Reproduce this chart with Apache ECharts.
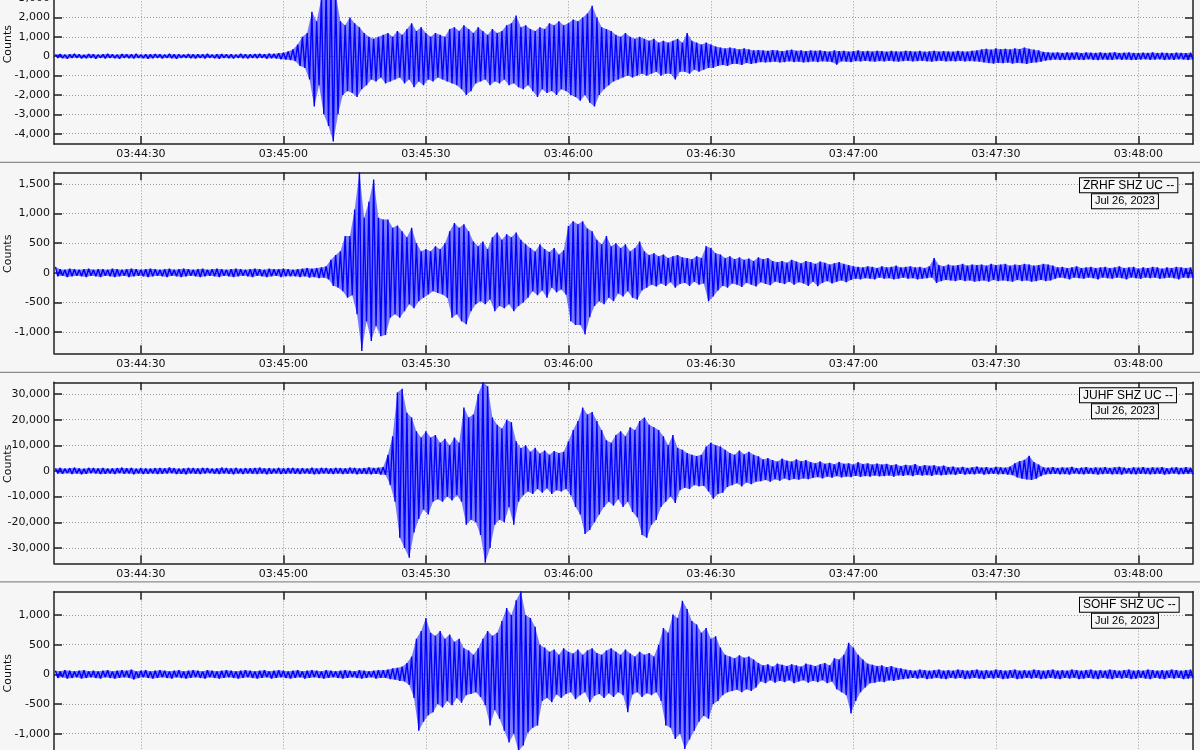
<!DOCTYPE html>
<html><head><meta charset="utf-8">
<script src="https://cdn.jsdelivr.net/npm/echarts@6/dist/echarts.min.js"></script>
<style>html,body{margin:0;padding:0;background:#f6f6f6;}#chart{width:1200px;height:750px;}</style>
</head><body><div id="chart"></div>
<script>
// Seconds after 03:44:00 (UTC), Jul 26 2023. One envelope pair (max, min) per second, t = 12 ... 251.
const startSecond = 12;
const xTickSeconds = [30, 60, 90, 120, 150, 180, 210, 240];

const trace1Ticks = [-4000, -3000, -2000, -1000, 0, 1000, 2000, 3000];
const trace2Ticks = [-1000, -500, 0, 500, 1000, 1500];
const trace3Ticks = [-30000, -20000, -10000, 0, 10000, 20000, 30000];
const trace4Ticks = [-1500, -1000, -500, 0, 500, 1000];

const stationNames = ['', 'ZRHF SHZ UC --', 'JUHF SHZ UC --', 'SOHF SHZ UC --'];
const dateText = 'Jul 26, 2023';

const trace1Max = [
90,110,80,100,120,90,70,110,100,80,
100,120,90,80,110,100,90,120,80,100,
90,110,100,80,120,90,100,80,110,90,
100,90,120,80,100,110,90,100,80,120,
100,90,110,120,100,130,120,150,180,250,
350,600,1000,1200,2300,1800,3000,3500,3600,3200,
1800,1600,2000,1700,1500,1200,1000,900,1000,1100,
1200,1000,1300,1100,1400,1700,1300,1500,1200,1000,
1200,1100,1000,1400,1500,1300,1600,1400,1200,1500,
1300,1100,1400,1200,1300,1600,1700,2100,1500,1600,
1400,1300,1500,1400,1700,1600,1800,1600,1700,1900,
1800,2000,2200,2600,2000,1500,1400,1300,1100,1000,
1200,1000,900,1000,900,800,900,700,800,700,
800,900,700,1200,800,700,600,700,600,500,
450,400,450,400,350,400,350,300,320,300,
280,320,300,260,300,340,280,300,260,300,
280,300,260,240,300,260,280,240,260,300,
250,270,240,280,260,230,270,250,240,280,
260,240,270,230,250,280,240,260,250,230,
270,250,240,280,300,350,380,340,400,360,
380,350,400,370,450,380,340,300,220,200,
180,200,170,190,180,200,160,190,180,170,
190,170,180,200,160,180,190,170,160,180,
170,190,160,180,170,150,180,170,160,180];
const trace1Min = [
-80,-100,-120,-90,-80,-110,-100,-90,-120,-80,
-110,-90,-100,-120,-80,-100,-110,-90,-100,-120,
-100,-80,-110,-90,-100,-120,-90,-80,-100,-110,
-90,-110,-80,-100,-120,-90,-100,-110,-80,-100,
-110,-90,-100,-80,-120,-100,-110,-150,-170,-200,
-250,-500,-600,-1200,-2600,-1500,-3000,-3600,-4400,-3000,
-2000,-1800,-1900,-2100,-1700,-1500,-1200,-1300,-1100,-1400,
-1300,-1200,-1100,-1400,-1200,-1600,-1300,-1500,-1200,-1300,
-1100,-1200,-1300,-1400,-1500,-1700,-2000,-1800,-1400,-1300,
-1200,-1500,-1300,-1400,-1200,-1500,-1400,-1600,-1700,-1500,
-1800,-2100,-1700,-1900,-1800,-2000,-1700,-1800,-2000,-2100,
-2300,-2000,-2400,-2600,-2000,-1700,-1500,-1300,-1200,-1100,
-1000,-1100,-1000,-900,-1000,-900,-800,-1000,-900,-900,
-1200,-800,-800,-900,-700,-800,-700,-600,-600,-500,
-450,-500,-400,-400,-450,-350,-400,-350,-300,-320,
-300,-280,-320,-300,-260,-300,-280,-320,-300,-270,
-300,-260,-280,-300,-430,-260,-280,-300,-250,-270,
-240,-260,-280,-250,-270,-240,-260,-280,-250,-240,
-270,-250,-240,-260,-280,-250,-240,-270,-250,-260,
-240,-270,-250,-260,-280,-320,-350,-380,-340,-360,
-330,-380,-350,-360,-400,-340,-320,-280,-220,-200,
-170,-190,-180,-200,-170,-180,-190,-160,-180,-200,
-170,-180,-190,-160,-180,-170,-190,-180,-170,-160,
-180,-170,-160,-190,-170,-180,-160,-170,-190,-170];

const trace2Max = [
100,60,50,70,60,50,60,70,50,60,
60,50,70,60,50,60,70,60,50,60,
70,60,50,60,70,50,60,70,60,50,
60,70,50,60,70,60,50,60,70,60,
50,60,70,60,50,70,60,60,70,60,
50,60,70,80,70,80,90,110,220,300,
365,620,620,1070,1700,930,1200,1575,930,900,
900,760,800,700,600,760,500,365,400,365,
450,400,500,700,840,760,820,700,530,450,
530,400,600,680,560,650,600,680,560,480,
420,360,480,400,350,420,310,380,790,870,
820,870,750,700,560,480,620,450,500,420,
480,365,420,530,365,300,330,280,310,250,
280,300,260,250,230,280,250,450,420,330,
310,250,280,230,260,220,240,200,260,230,
250,200,180,200,170,220,190,160,200,180,
150,190,170,140,160,180,150,130,110,100,
90,110,100,80,110,90,100,120,90,100,
110,90,100,80,110,250,130,110,140,120,
130,150,120,140,130,140,120,150,130,140,
150,120,140,130,150,140,120,130,150,140,
120,90,100,80,90,110,80,90,100,80,
90,100,80,90,110,80,90,100,70,90,
80,100,90,70,90,80,100,90,80,90];
const trace2Min = [
-60,-50,-70,-60,-50,-60,-70,-50,-60,-70,
-50,-60,-70,-60,-50,-70,-60,-50,-60,-70,
-60,-50,-60,-70,-50,-60,-70,-60,-50,-60,
-70,-60,-50,-60,-70,-50,-60,-70,-60,-50,
-60,-70,-50,-60,-70,-60,-50,-70,-60,-60,
-60,-70,-60,-80,-70,-90,-80,-110,-220,-250,
-310,-420,-380,-700,-1320,-820,-1150,-900,-1070,-1050,
-760,-700,-760,-650,-530,-600,-480,-420,-365,-310,
-340,-365,-420,-760,-700,-820,-870,-650,-530,-480,
-530,-450,-650,-560,-600,-530,-650,-560,-500,-420,
-310,-380,-300,-420,-250,-330,-280,-370,-820,-880,
-880,-1040,-750,-560,-480,-530,-420,-480,-350,-400,
-310,-420,-450,-300,-250,-200,-230,-180,-220,-160,
-250,-190,-170,-220,-150,-200,-180,-480,-400,-300,
-220,-250,-180,-200,-240,-170,-200,-230,-160,-190,
-210,-150,-170,-190,-150,-200,-160,-180,-220,-150,
-225,-170,-140,-180,-150,-130,-160,-120,-100,-110,
-90,-100,-110,-80,-100,-90,-110,-100,-80,-100,
-90,-110,-100,-90,-80,-170,-140,-120,-130,-140,
-120,-140,-130,-150,-140,-130,-150,-120,-140,-130,
-140,-150,-120,-140,-130,-150,-140,-120,-140,-130,
-100,-80,-90,-110,-80,-90,-100,-80,-90,-110,
-80,-90,-100,-80,-90,-110,-80,-90,-100,-80,
-90,-80,-100,-90,-80,-90,-110,-80,-90,-80];

const trace3Max = [
1000,1200,900,1100,1300,1000,900,1200,1100,1000,
1200,900,1000,1100,1300,1000,1200,900,1100,1000,
900,1100,1200,1000,1300,1100,900,1000,1200,1100,
1000,1200,1100,900,1000,1300,1100,1000,1200,900,
1100,1000,1200,1300,1000,1100,900,1200,1000,1100,
1200,1000,1100,900,1300,1000,1200,1100,1000,1200,
1100,1000,1300,1200,1000,1100,1400,1200,1300,1500,
6300,13500,30600,32000,22700,20800,15500,13000,15500,13000,
14000,11000,12500,10000,13000,11000,24700,20800,22000,30000,
34600,33000,20800,18000,16500,20000,19000,11600,8900,10000,
7500,9000,6800,8000,6300,7800,7000,7500,11600,16000,
19500,24700,22000,23000,19500,16000,12000,11000,14000,15500,
13500,17000,16000,19500,20800,18000,17000,16000,13500,10000,
14000,9000,8300,7000,6300,5800,6300,9500,11000,10000,
9500,8300,7000,6300,8000,6500,7500,6300,5700,4500,
5000,4200,3700,4800,4000,3700,4500,3800,4200,3500,
3000,3700,2800,3200,2600,3500,2800,3000,2500,3400,
2700,3000,2500,2900,2500,2800,2200,2600,1900,2400,
2100,2700,1800,2300,2000,2200,1700,2100,1500,1700,
1300,1600,1200,1400,1700,1300,1500,1200,1600,1400,
1300,1700,3000,3800,4300,5900,3500,2500,1400,1300,
1500,1200,1400,1300,1600,1100,1300,1500,1200,1400,
1300,1500,1200,1400,1600,1300,1100,1400,1300,1500,
1200,1400,1300,1500,1100,1300,1400,1200,1500,1300];
const trace3Min = [
-1000,-1100,-900,-1200,-1000,-1300,-1100,-900,-1000,-1200,
-1100,-1000,-1200,-900,-1100,-1000,-1300,-1000,-1200,-1100,
-1000,-1200,-1100,-1000,-900,-1200,-1100,-1300,-1000,-1100,
-1200,-1000,-900,-1100,-1200,-1000,-1100,-1300,-1000,-1200,
-1000,-1100,-1200,-1000,-1300,-1100,-1000,-1200,-1100,-1000,
-1100,-1200,-1000,-1100,-1300,-1200,-1000,-1100,-1200,-1000,
-1200,-1100,-1000,-1300,-1100,-1200,-1300,-1100,-1400,-1500,
-5500,-12000,-26000,-30000,-33800,-24000,-18700,-15000,-17000,-12000,
-11000,-12000,-10000,-11500,-9500,-12000,-21000,-19000,-20000,-25000,
-35800,-30000,-21000,-19000,-20000,-14000,-21000,-12000,-9500,-8000,
-9000,-7000,-8500,-6800,-9000,-7500,-8000,-7000,-9500,-14000,
-17000,-24600,-23000,-20000,-17000,-14000,-12000,-13500,-11000,-14000,
-12000,-16000,-18000,-25000,-26000,-21000,-19000,-14000,-12000,-10000,
-12500,-7500,-6500,-7000,-5500,-6000,-5800,-8000,-10800,-9000,
-8500,-6200,-5500,-4800,-6000,-4500,-5200,-4200,-4000,-3500,
-4200,-3200,-3800,-2900,-3600,-3100,-3400,-2900,-3200,-2700,
-2400,-2900,-2200,-2600,-2000,-2500,-2200,-2400,-1900,-2300,
-2000,-2200,-1800,-2100,-2000,-1800,-2200,-1700,-1900,-1600,
-2000,-1500,-1800,-1600,-1900,-1400,-1700,-1500,-1300,-1500,
-1100,-1400,-1200,-1300,-1000,-1400,-1200,-1100,-1300,-1200,
-1400,-1600,-2500,-3000,-3300,-3500,-3000,-2000,-1300,-1200,
-1100,-1300,-1200,-1400,-1000,-1200,-1300,-1100,-1200,-1400,
-1200,-1100,-1300,-1200,-1400,-1000,-1200,-1300,-1100,-1200,
-1300,-1200,-1100,-1400,-1200,-1000,-1300,-1200,-1100,-1300];

const trace4Max = [
60,50,70,60,50,60,70,50,60,50,
60,70,50,60,70,60,80,50,60,70,
50,60,70,60,50,60,70,50,60,70,
60,50,70,60,50,60,70,60,50,60,
70,60,50,60,70,50,60,70,60,50,
60,70,50,60,70,60,50,70,60,50,
60,70,60,50,70,60,50,60,70,70,
80,100,110,130,190,300,600,730,950,700,
650,730,600,670,550,600,440,400,330,440,
600,730,650,700,900,1120,1000,1250,1400,1000,
950,800,500,450,380,420,330,440,380,350,
420,330,400,440,360,330,400,440,380,330,
420,350,300,380,330,360,300,500,780,700,
1010,950,1240,1100,900,840,700,780,600,640,
450,330,300,270,320,280,300,250,190,150,
170,130,180,160,140,170,150,130,180,160,
140,170,190,150,270,250,330,530,450,330,
250,180,160,140,150,120,140,110,100,80,
70,60,80,70,60,70,80,60,70,60,
80,70,60,70,80,60,70,60,80,70,
60,70,80,60,70,60,80,70,60,70,
80,60,70,60,80,70,60,70,80,60,
70,60,80,70,60,70,80,60,70,60,
80,70,60,70,60,80,70,60,70,80];
const trace4Min = [
-60,-50,-70,-60,-50,-70,-60,-50,-60,-70,
-50,-60,-70,-60,-50,-60,-85,-60,-50,-60,
-70,-60,-50,-60,-70,-50,-60,-70,-60,-50,
-60,-70,-50,-60,-70,-60,-50,-60,-70,-60,
-50,-60,-70,-60,-50,-70,-60,-50,-60,-70,
-60,-50,-70,-60,-50,-60,-70,-60,-50,-60,
-70,-60,-50,-60,-70,-60,-50,-70,-60,-60,
-80,-90,-110,-120,-180,-400,-950,-800,-690,-640,
-500,-560,-450,-520,-400,-480,-350,-330,-300,-380,
-520,-860,-600,-750,-950,-1150,-1000,-1290,-1200,-980,
-900,-860,-450,-400,-470,-340,-400,-330,-300,-420,
-350,-300,-470,-360,-330,-400,-320,-380,-300,-350,
-640,-340,-300,-380,-320,-350,-300,-450,-860,-900,
-1090,-1000,-1260,-1100,-950,-800,-700,-750,-500,-450,
-350,-300,-280,-260,-300,-250,-280,-220,-120,-150,
-100,-140,-110,-130,-100,-150,-120,-100,-140,-110,
-130,-100,-150,-120,-250,-300,-350,-660,-450,-300,
-220,-150,-140,-120,-130,-100,-110,-90,-80,-70,
-60,-70,-60,-80,-70,-60,-70,-80,-60,-70,
-60,-80,-70,-60,-70,-80,-60,-70,-60,-80,
-70,-60,-80,-70,-60,-70,-60,-80,-70,-60,
-70,-80,-60,-70,-60,-80,-70,-60,-70,-80,
-60,-70,-80,-60,-70,-60,-80,-70,-60,-70,
-80,-60,-70,-80,-60,-70,-60,-80,-70,-60];

// ---------- layout / styling ----------
const BG = '#f6f6f6';
const X_MIN = 11.7, X_MAX = 251.5;
const GRID_LEFT = 54, GRID_WIDTH = 1139;
const panels = [
  {top: -37.7, height: 181.7, min: -4530, max: 4847, ticks: trace1Ticks, mx: trace1Max, mn: trace1Min},
  {top: 172.3, height: 181,   min: -1360, max: 1698, ticks: trace2Ticks, mx: trace2Max, mn: trace2Min},
  {top: 382.3, height: 181,   min: -35990, max: 34560, ticks: trace3Ticks, mx: trace3Max, mn: trace3Min},
  {top: 591.7, height: 181,   min: -1658, max: 1393, ticks: trace4Ticks, mx: trace4Max, mn: trace4Min}
];
const separators = [162.3, 372.3, 581.8];

function pad(n){ return (n < 10 ? '0' : '') + n; }
function fmtTime(s){ s = Math.round(s); return '03:' + pad(44 + Math.floor(s/60)) + ':' + pad(s % 60); }
function fmtCount(v){ return Math.round(v).toLocaleString('en-US'); }
function zigzag(mx, mn){
  const pts = [];
  for (let i = 0; i < mx.length; i++) {
    const t = startSecond + i;
    pts.push([t, mx[i]]);
    pts.push([t + 0.5, mn[i]]);
  }
  return pts;
}
// Envelope band (max forward, min backward) drawn through the grid's own scales
function bandRenderer(mx, mn){
  return function(params, api){
    const pts = [];
    for (let i = 0; i < mx.length; i++) pts.push(api.coord([startSecond + i, mx[i]]));
    for (let i = mn.length - 1; i >= 0; i--) pts.push(api.coord([startSecond + i + 0.5, mn[i]]));
    return {type: 'polygon', shape: {points: pts}, style: {fill: 'rgba(0,0,255,0.5)'}, silent: true};
  };
}

const frame = {show: true, onZero: false, lineStyle: {color: '#222', width: 1.5}};
const tickStyle = {color: '#222', width: 1.5};
const labelFont = {fontFamily: 'DejaVu Sans', fontSize: 11, color: '#111'};
const gridLine = {show: true, lineStyle: {color: '#9a9a9a', width: 1, type: [1, 2]}};

const grids = [], xAxes = [], yAxes = [], series = [], graphics = [];
panels.forEach((p, i) => {
  grids.push({left: GRID_LEFT, width: GRID_WIDTH, top: p.top, height: p.height, containLabel: false, outerBoundsMode: 'none'});
  xAxes.push({type: 'value', gridIndex: i, position: 'bottom', min: X_MIN, max: X_MAX,
    axisLine: frame,
    axisTick: {show: true, inside: true, length: 8, customValues: xTickSeconds, lineStyle: tickStyle},
    axisLabel: Object.assign({show: true, customValues: xTickSeconds, formatter: fmtTime, margin: 5}, labelFont),
    splitLine: gridLine});
  xAxes.push({type: 'value', gridIndex: i, position: 'top', min: X_MIN, max: X_MAX,
    axisLine: frame,
    axisTick: {show: true, inside: true, length: 8, customValues: xTickSeconds, lineStyle: tickStyle},
    axisLabel: {show: false}, splitLine: {show: false}});
  yAxes.push({type: 'value', gridIndex: i, position: 'left', min: p.min, max: p.max,
    name: 'Counts', nameLocation: 'middle', nameGap: 40, nameMoveOverlap: false,
    nameTextStyle: Object.assign({padding: [0, 0, 0, 18]}, labelFont),
    axisLine: frame,
    axisTick: {show: true, inside: true, length: 8, customValues: p.ticks, lineStyle: tickStyle},
    axisLabel: Object.assign({show: true, customValues: p.ticks, formatter: fmtCount, margin: 4}, labelFont),
    splitLine: gridLine});
  yAxes.push({type: 'value', gridIndex: i, position: 'right', min: p.min, max: p.max,
    axisLine: frame,
    axisTick: {show: true, inside: true, length: 8, customValues: p.ticks, lineStyle: tickStyle},
    axisLabel: {show: false}, splitLine: {show: false}});
  series.push({type: 'custom', xAxisIndex: 2*i, yAxisIndex: 2*i, data: [[startSecond, 0]],
    renderItem: bandRenderer(p.mx, p.mn), clip: true, silent: true, z: 2});
  series.push({type: 'line', xAxisIndex: 2*i, yAxisIndex: 2*i, data: zigzag(p.mx, p.mn),
    showSymbol: false, symbol: 'none', sampling: null, clip: true, z: 3,
    lineStyle: {color: '#0000ff', width: 1.4}, silent: true});
  if (stationNames[i]) {
    graphics.push({type: 'text', left: 1079, top: p.top + 5, z: 100,
      style: {text: stationNames[i], font: '12px "Liberation Sans", Arial, sans-serif', fill: '#000',
        backgroundColor: BG, borderColor: '#000', borderWidth: 1, padding: [1, 3, 1, 3], lineHeight: 12}});
    graphics.push({type: 'text', left: 1091, top: p.top + 21, z: 100,
      style: {text: dateText, font: '11px "Liberation Sans", Arial, sans-serif', fill: '#000',
        backgroundColor: BG, borderColor: '#000', borderWidth: 1, padding: [1, 3, 1, 3], lineHeight: 12}});
  }
});
separators.forEach(y => graphics.push({type: 'line', z: 50,
  shape: {x1: 0, y1: y, x2: 1200, y2: y}, style: {stroke: '#8c8c8c', lineWidth: 1.3}}));

const chart = echarts.init(document.getElementById('chart'), null, {renderer: 'canvas', width: 1200, height: 750});
chart.setOption({
  backgroundColor: BG,
  animation: false,
  grid: grids, xAxis: xAxes, yAxis: yAxes, series: series, graphic: graphics
});
</script></body></html>
